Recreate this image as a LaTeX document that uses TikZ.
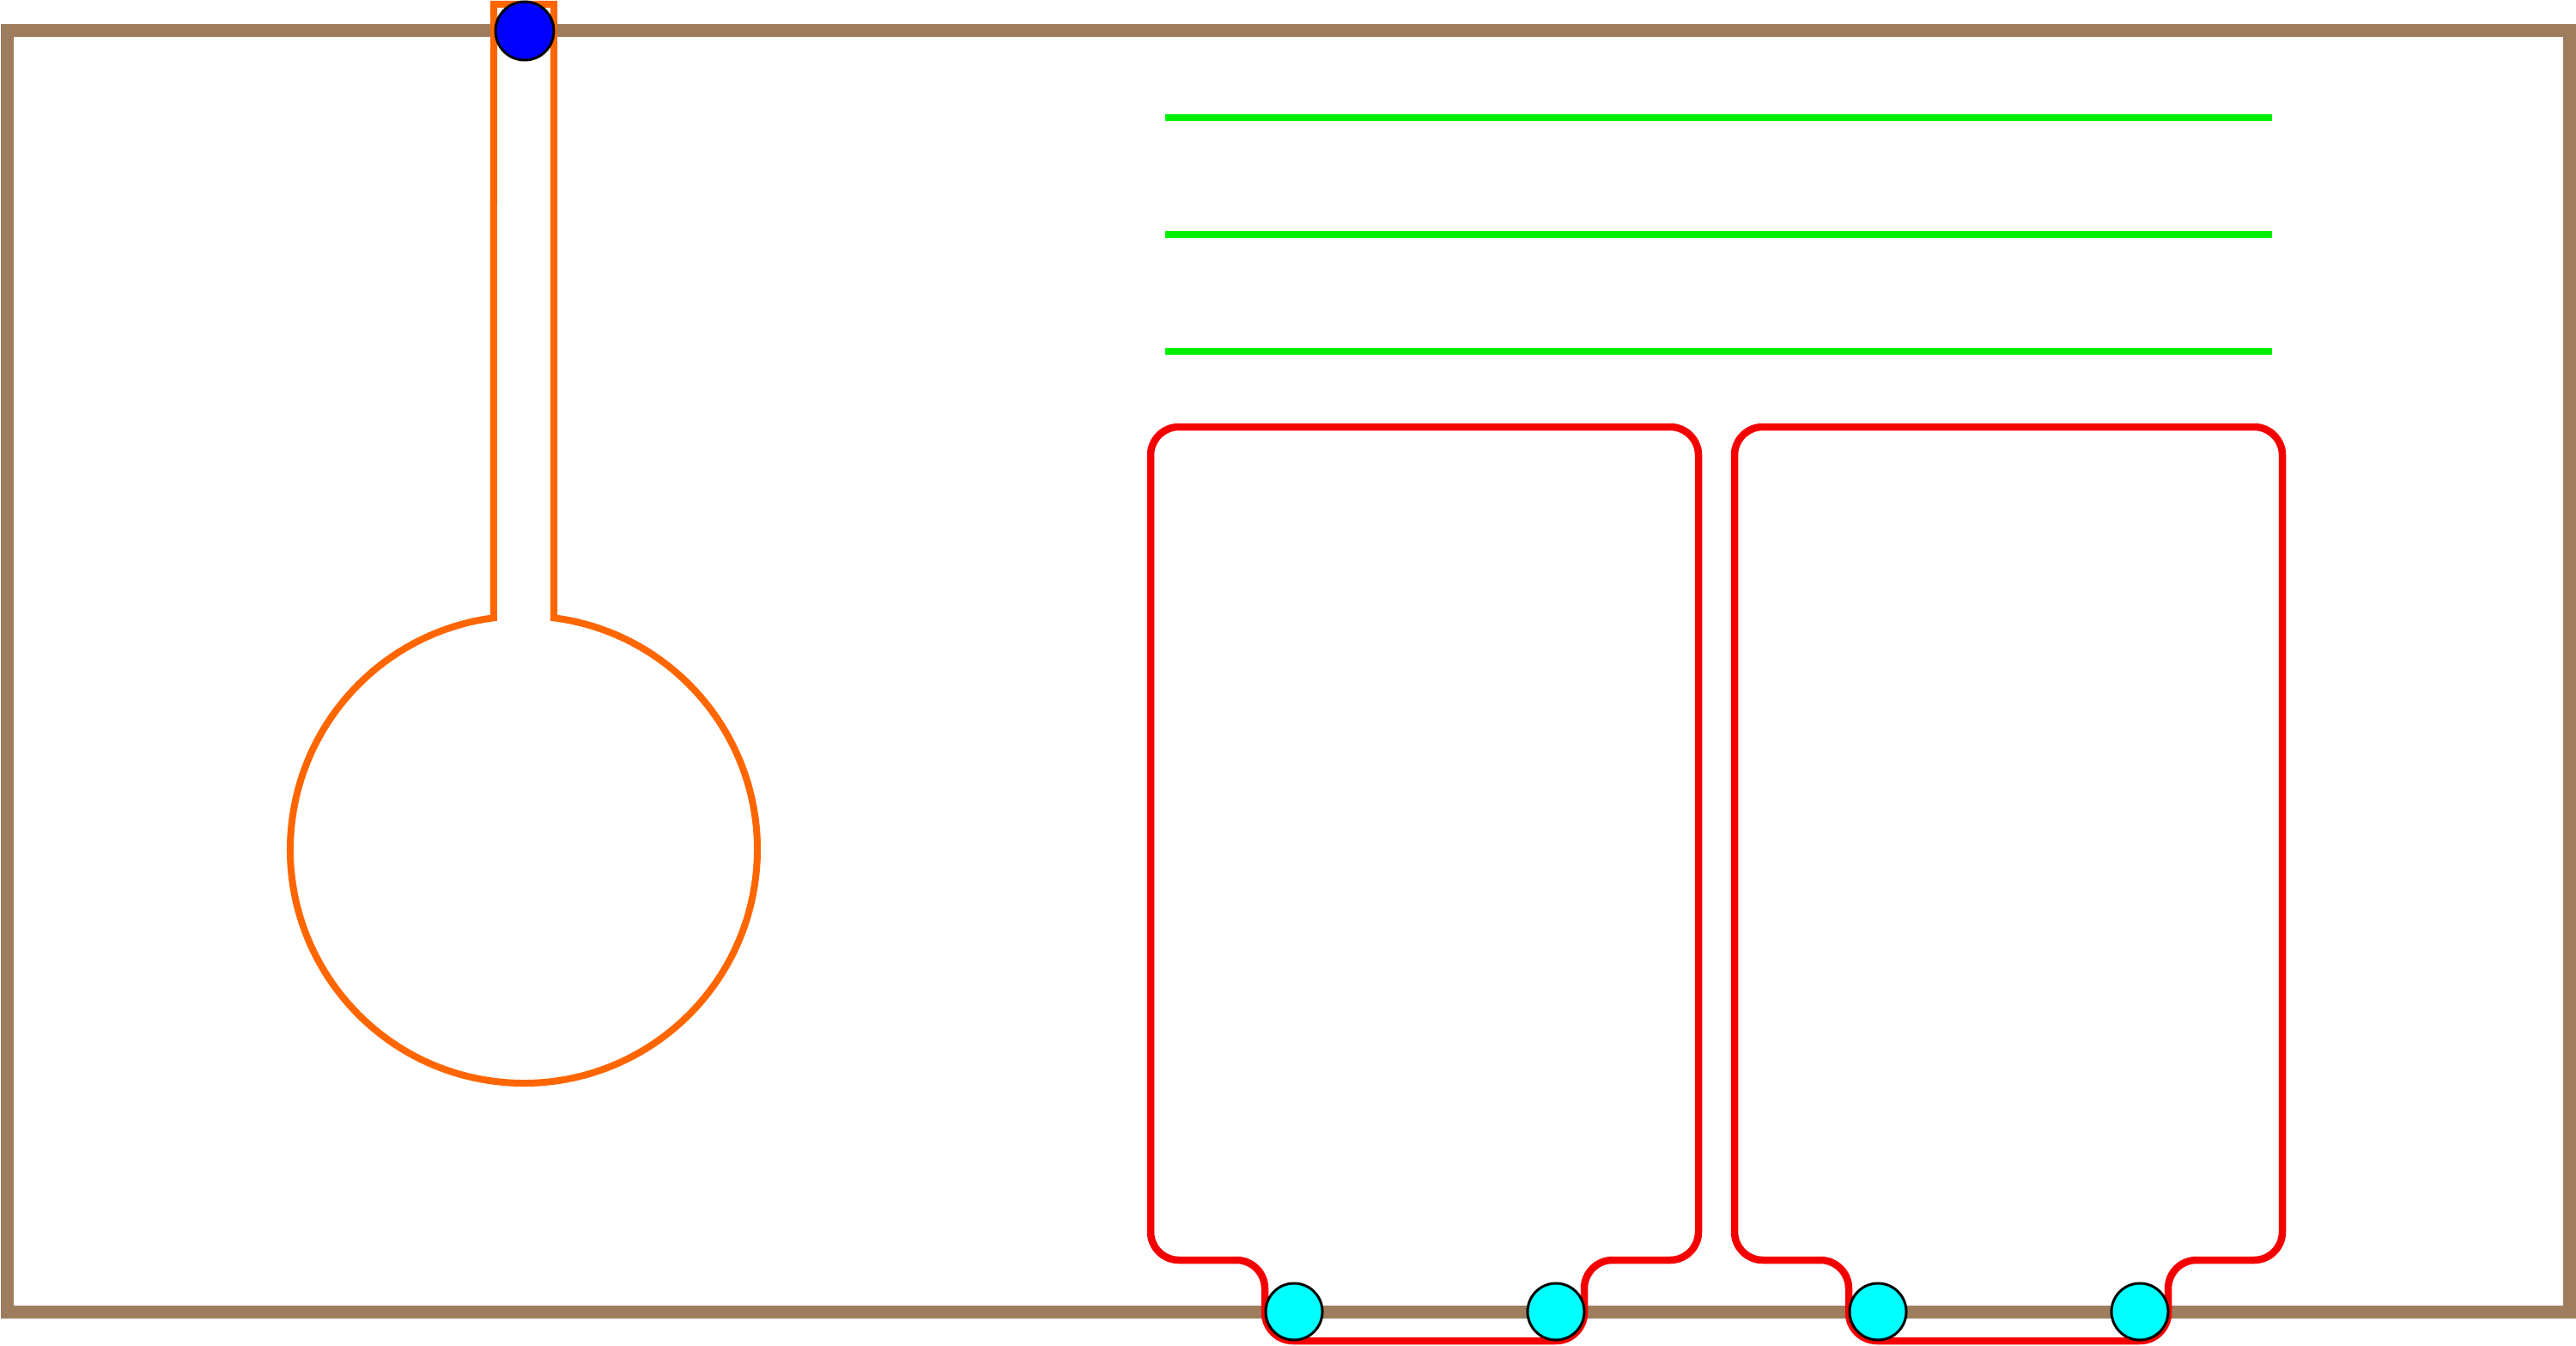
\documentclass[tikz,border=0pt]{standalone}
\usepackage{tikz}
\definecolor{casingbrown}{RGB}{157,125,93}
\definecolor{tubeorange}{RGB}{255,102,0}
\definecolor{railgreen}{RGB}{0,238,0}
\definecolor{wirered}{RGB}{245,0,0}
\definecolor{portcyan}{RGB}{0,255,255}
\definecolor{sourceblue}{RGB}{0,0,255}

\begin{document}
\begin{tikzpicture}

\tikzset{casing/.style = {draw=casingbrown,line width=0.15cm}}
\tikzset{tube/.style = {draw=tubeorange,line width=0.08cm}}
\tikzset{rail/.style = {draw=railgreen,line width=0.08cm}}
\tikzset{wire/.style = {draw=wirered,line width=0.085cm,rounded corners=0.33cm}}
\tikzset{port/.style = {shape=circle,draw,fill=portcyan,line width=0.03cm,minimum size=0.66cm,inner sep=0pt}}
\tikzset{source/.style = {port,fill=sourceblue,minimum size=0.68cm}}

\useasboundingbox (0,0) rectangle (30,15.66);

% frame
\draw[casing] (0.08,0.39) rectangle (29.92,15.30);

% bulb with stem
\coordinate (bulb) at (6.10,5.77);
\draw[tube] ([shift={(82.6:2.72)}]bulb) arc[start angle=82.6, end angle=-262.6, radius=2.72]
  -- (5.75,15.61) -- (6.45,15.61) -- cycle;

% rails
\draw[rail] (13.57,14.29) -- (26.46,14.29);
\draw[rail] (13.57,12.93) -- (26.46,12.93);
\draw[rail] (13.57,11.57) -- (26.46,11.57);

% wires
\draw[wire] (14.73,0.99) -- (13.40,0.99) -- (13.40,10.69) -- (19.78,10.69) -- (19.78,0.99)
  -- (18.45,0.99) -- (18.45,0.05) -- (14.73,0.05) -- cycle;
\draw[wire] (21.53,0.99) -- (20.20,0.99) -- (20.20,10.69) -- (26.58,10.69) -- (26.58,0.99)
  -- (25.25,0.99) -- (25.25,0.05) -- (21.53,0.05) -- cycle;

% ports
\node[source] (src) at (6.11,15.30) {};
\node[port] (p1) at (15.07,0.39) {};
\node[port] (p2) at (18.12,0.39) {};
\node[port] (p3) at (21.87,0.39) {};
\node[port] (p4) at (24.92,0.39) {};

\end{tikzpicture}
\end{document}
